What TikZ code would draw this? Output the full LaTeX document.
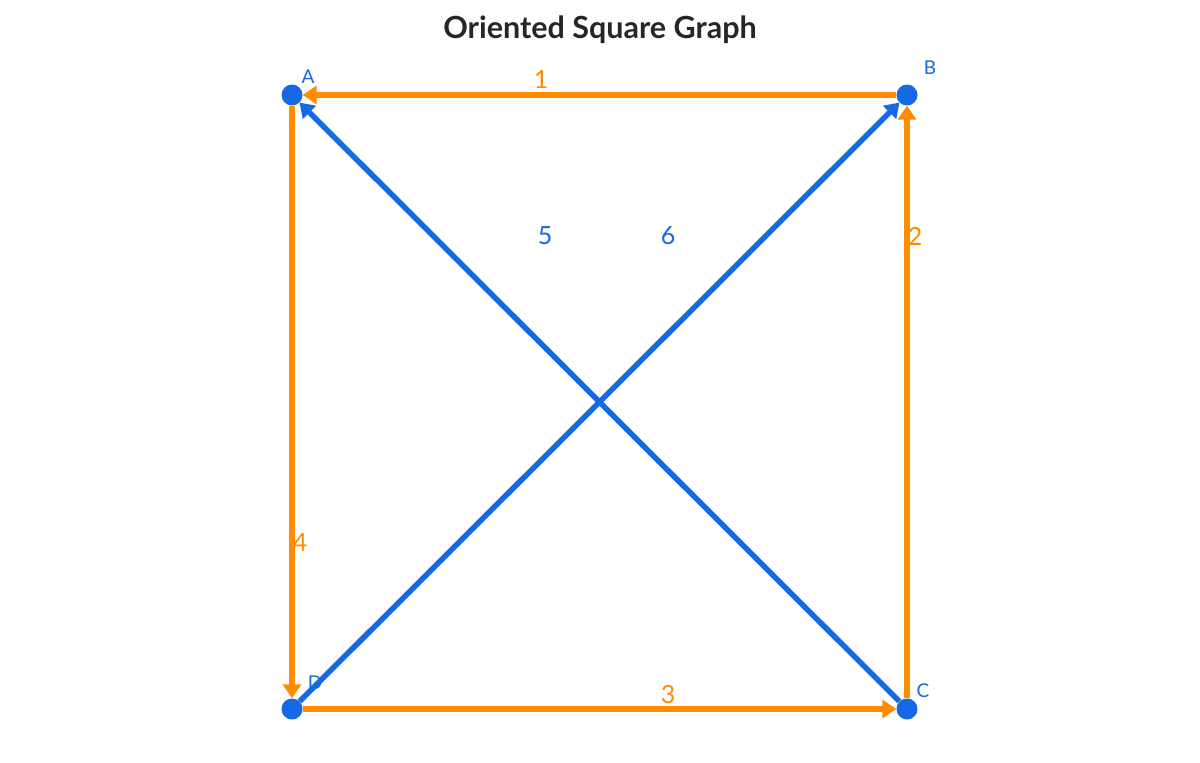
\documentclass[tikz,border=0pt]{standalone}
\usepackage{fontspec}
\setmainfont{Lato}
\usetikzlibrary{arrows.meta}
\definecolor{vblue}{HTML}{1668E3}
\definecolor{eorange}{HTML}{FF8C00}
\begin{document}
\begin{tikzpicture}[x=1pt,y=-1pt,
  vertex/.style={circle,fill=vblue,inner sep=0,minimum size=21pt},
  side/.style={draw=eorange,line width=5.5pt,-{Triangle[length=14pt,width=18pt]}},
  diag/.style={draw=vblue,line width=5.5pt,-{Triangle[length=14pt,width=18pt]}},
  vname/.style={text=vblue,font=\fontsize{19}{19}\selectfont},
  sidenum/.style={text=eorange,font=\fontsize{25}{25}\selectfont},
  diagnum/.style={text=vblue,font=\fontsize{25}{25}\selectfont}]
\useasboundingbox (0,0) rectangle (1200,763);
\node[font=\bfseries\fontsize{30.5}{30.5}\selectfont,text=black!85] (title) at (600,30) {Oriented Square Graph};
\node[vertex] (A) at (292,95) {};
\node[vertex] (B) at (907,95) {};
\node[vertex] (C) at (907,709) {};
\node[vertex] (D) at (292,709) {};
\node[vname] (la) at (308,77) {A};
\node[vname] (lb) at (930,68) {B};
\node[vname] (lc) at (923,691) {C};
\node[vname] (ld) at (315,683) {D};
% sides
\draw[side] (B) -- (A);
\draw[side] (C) -- (B);
\draw[side] (D) -- (C);
\draw[side] (A) -- (D);
% diagonals
\draw[diag] (C) -- (A);
\draw[diag] (D) -- (B);
\node[sidenum] (n1) at (541,80) {1};
\node[sidenum] (n2) at (915,236) {2};
\node[sidenum] (n3) at (668,695) {3};
\node[sidenum] (n4) at (300,543) {4};
\node[diagnum] (n5) at (545,236) {5};
\node[diagnum] (n6) at (668,236) {6};
\end{tikzpicture}
\end{document}
